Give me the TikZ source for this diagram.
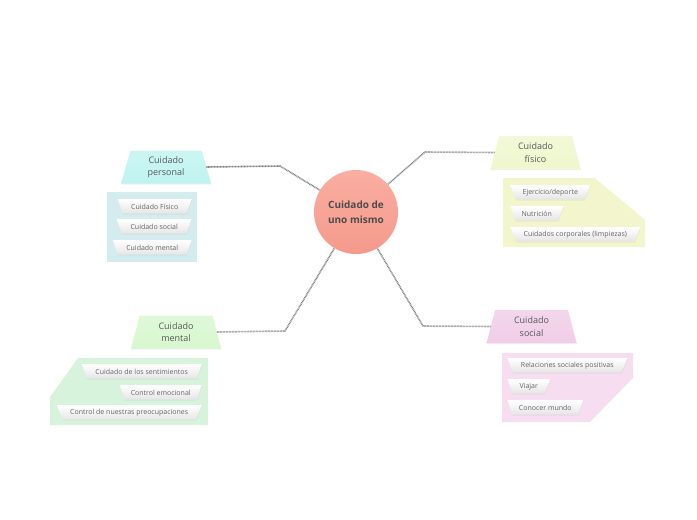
\documentclass[tikz,border=0pt]{standalone}
\usepackage{fontspec}
\setmainfont{Open Sans}
\usetikzlibrary{shapes.geometric,shadows}
\definecolor{corelight}{HTML}{FAAEA1}
\definecolor{coredark}{HTML}{F49A8C}
\definecolor{perscol}{HTML}{BFF3F0}
\definecolor{perspanel}{HTML}{D4ECEE}
\definecolor{physcol}{HTML}{EFF7CD}
\definecolor{physpanel}{HTML}{F3F5CC}
\definecolor{mentcol}{HTML}{D7F7CF}
\definecolor{mentpanel}{HTML}{D8F3DC}
\definecolor{soccol}{HTML}{F0CDE7}
\definecolor{socpanel}{HTML}{F6DEF0}
\begin{document}
\begin{tikzpicture}[x=1pt,y=-1pt,line join=round,line cap=round,
	title/.style={trapezium,trapezium angle=68,trapezium stretches body,minimum width=90pt,minimum height=33pt,inner sep=1pt,align=center,text=black!65,font=\fontsize{9}{12.5}\selectfont,drop shadow={opacity=0.12,shadow xshift=0.5pt,shadow yshift=-1.2pt}},
	item/.style={trapezium,trapezium angle=112,trapezium stretches body,minimum height=14.5pt,inner xsep=1pt,inner ysep=3.6pt,text=black!60,font=\fontsize{7}{8}\selectfont,top color=white,bottom color=black!10,drop shadow={opacity=0.1,shadow xshift=0.4pt,shadow yshift=-0.8pt}},
	link/.style={draw=black!50,line width=1.6pt,line cap=butt,dash pattern=on 0.8pt off 0.7pt}]
	\useasboundingbox (0,0) rectangle (697,520);
	\fill[perspanel] (107,192) rectangle (197,262);
	\fill[physpanel] (503,178)--(595,178)--(645,220)--(645,247)--(503,247)--cycle;
	\fill[mentpanel] (78,358)--(208,358)--(208,425)--(50,425)--(50,397)--cycle;
	\fill[socpanel] (502,353)--(633,353)--(633,378)--(590,422)--(502,422)--cycle;
	\node[circle,minimum size=84pt,inner sep=0pt,top color=corelight,bottom color=coredark,align=center,text=black!70,font=\fontsize{10}{15.5}\selectfont\bfseries] (core) at (356,212) {Cuidado de\\uno mismo};
	\node[title,top color=perscol!80!white,bottom color=perscol] (pers) at (166,167) {Cuidado\\personal};
	\node[title,top color=physcol!80!white,bottom color=physcol] (phys) at (535.5,152.5) {Cuidado\\físico};
	\node[title,top color=mentcol!80!white,bottom color=mentcol] (ment) at (176,332) {Cuidado\\mental};
	\node[title,top color=soccol!80!white,bottom color=soccol] (soc) at (531.5,326.5) {Cuidado\\social};
	\coordinate (pbend) at (280,166);
	\coordinate (fbend) at (425,152);
	\coordinate (mbend) at (285,331);
	\coordinate (sbend) at (423,326);
	\draw[link] (pers.east)--(pbend)--(core);
	\draw[link] (phys.west)--(fbend)--(core);
	\draw[link] (ment.east)--(mbend)--(core);
	\draw[link] (soc.west)--(sbend)--(core);
	\foreach \t/\y/\w [count=\i] in {Cuidado Físico/199/74,Cuidado social/219/75,Cuidado mental/240/79}
	\node[item,minimum width=\w pt,anchor=top right corner] (pitem\i) at (192,\y) {\t};
	\foreach \t/\y/\w [count=\i] in {{Ejercicio/deporte}/185/80,Nutrición/206/53,Cuidados corporales (limpiezas)/227/130}
	\node[item,minimum width=\w pt,anchor=top left corner] (fitem\i) at (510,\y) {\t};
	\foreach \t/\y/\w [count=\i] in {Cuidado de los sentimientos/364/120,Control emocional/385/82,Control de nuestras preocupaciones/405/145}
	\node[item,minimum width=\w pt,anchor=top right corner] (mitem\i) at (202,\y) {\t};
	\foreach \t/\y/\w [count=\i] in {Relaciones sociales positivas/358/120,Viajar/379/43,Conocer mundo/400/76}
	\node[item,minimum width=\w pt,anchor=top left corner] (sitem\i) at (507,\y) {\t};
\end{tikzpicture}
\end{document}
